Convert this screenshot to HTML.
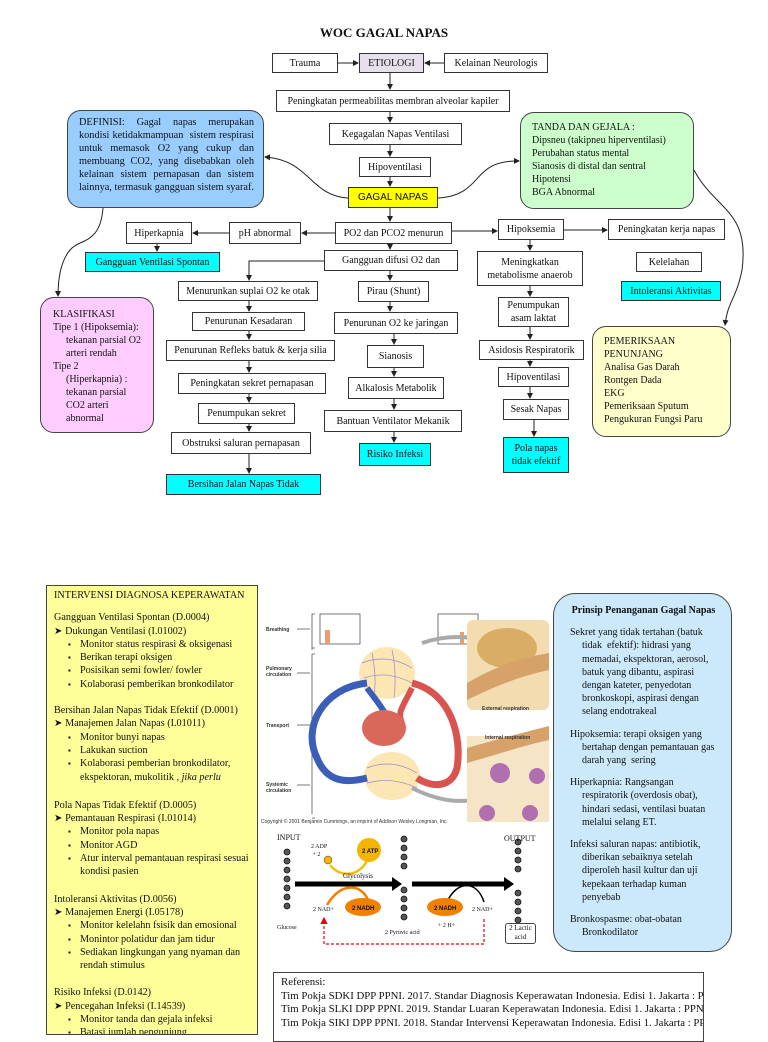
<!DOCTYPE html>
<html><head><meta charset="utf-8">
<style>
*{margin:0;padding:0;box-sizing:border-box}
body{width:768px;height:1024px;overflow:hidden;background:#fff;position:relative;font-family:"Liberation Serif",serif;color:#111}
.b{position:absolute;border:1px solid #333;background:#fff;font-size:10px;display:flex;align-items:center;justify-content:center;text-align:center;line-height:13px;white-space:nowrap}
.c{background:#00ffff}
.r{position:absolute;border:1px solid #444;font-size:10px;line-height:13px}
.t{position:absolute;font-size:10px;line-height:13px;white-space:nowrap}
.s{position:absolute;font-family:"Liberation Sans",sans-serif;font-size:5px;line-height:6px;color:#333;white-space:nowrap}
.j{text-align:justify;text-align-last:justify;white-space:nowrap}
.bl{padding-left:26px;position:relative;white-space:nowrap}
.bl:before{content:"▪";position:absolute;left:14px;top:0;font-size:8px}
.bc{padding-left:26px;white-space:nowrap}
.gap{height:13px}
.p{padding-left:12px;text-indent:-12px;margin-bottom:9px;white-space:nowrap}
</style></head><body>
<div class="t" style="left:0;width:768px;top:26px;text-align:center;font-weight:bold;font-size:13px">WOC GAGAL NAPAS</div>

<svg width="768" height="1024" style="position:absolute;left:0;top:0">
<defs><marker id="a" markerWidth="6" markerHeight="6" refX="5" refY="3" orient="auto"><path d="M0,0 L6,3 L0,6z" fill="#222"/></marker>
<marker id="rd" markerWidth="6" markerHeight="6" refX="5" refY="3" orient="auto"><path d="M0,0 L6,3 L0,6z" fill="#e00"/></marker></defs>
<g stroke="#222" stroke-width="1" fill="none" marker-end="url(#a)">
<line x1="338" y1="63" x2="358" y2="63"/><line x1="444" y1="63" x2="425" y2="63"/>
<line x1="390" y1="73" x2="390" y2="89"/><line x1="390" y1="112" x2="390" y2="122"/>
<line x1="390" y1="145" x2="390" y2="156"/><line x1="390" y1="177" x2="390" y2="186"/>
<line x1="390" y1="208" x2="390" y2="221"/><line x1="390" y1="244" x2="390" y2="249"/>
<line x1="335" y1="233" x2="302" y2="233"/><line x1="229" y1="233" x2="193" y2="233"/>
<line x1="157" y1="244" x2="157" y2="251"/>
<line x1="452" y1="231" x2="497" y2="231"/><line x1="564" y1="230" x2="607" y2="230"/>
<polyline points="324,261 249,261 249,280"/>
<line x1="249" y1="301" x2="249" y2="311"/><line x1="249" y1="331" x2="249" y2="339"/>
<line x1="249" y1="361" x2="249" y2="372"/><line x1="249" y1="394" x2="249" y2="402"/>
<line x1="249" y1="424" x2="249" y2="431"/><line x1="249" y1="454" x2="249" y2="473"/>
<line x1="390" y1="271" x2="390" y2="280"/><line x1="390" y1="302" x2="390" y2="311"/>
<line x1="394" y1="334" x2="394" y2="344"/><line x1="394" y1="368" x2="394" y2="376"/>
<line x1="394" y1="399" x2="394" y2="409"/><line x1="394" y1="432" x2="394" y2="442"/>
<line x1="530" y1="240" x2="530" y2="250"/><line x1="530" y1="286" x2="530" y2="296"/>
<line x1="530" y1="327" x2="530" y2="339"/><line x1="530" y1="360" x2="530" y2="366"/>
<line x1="530" y1="387" x2="530" y2="398"/><line x1="534" y1="420" x2="534" y2="436"/>
<path d="M348,198 C310,196 310,160 265,157"/>
<path d="M438,198 C485,195 470,160 519,161"/>
<path d="M103,208 C100,245 80,238 70,250 C60,262 58,280 58,296"/>
<path d="M694,170 C715,210 750,210 742,270 C736,300 728,300 725,325"/>
</g>
</svg>

<div class="b" style="left:272px;top:53px;width:66px;height:20px">Trauma</div>
<div class="b" style="left:359px;top:53px;width:65px;height:20px;background:#e6e0ec">ETIOLOGI</div>
<div class="b" style="left:444px;top:53px;width:104px;height:20px">Kelainan Neurologis</div>
<div class="b" style="left:276px;top:90px;width:234px;height:22px">Peningkatan permeabilitas membran alveolar kapiler</div>
<div class="b" style="left:329px;top:123px;width:133px;height:22px">Kegagalan Napas Ventilasi</div>
<div class="b" style="left:359px;top:157px;width:72px;height:20px">Hipoventilasi</div>
<div class="b" style="left:348px;top:187px;width:90px;height:21px;background:#ffff00;font-family:'Liberation Sans',sans-serif">GAGAL NAPAS</div>

<div class="r" style="left:67px;top:110px;width:197px;height:98px;background:#99ccff;border-radius:14px;padding:5px 9px 0 11px;line-height:13px;font-size:10.3px">
<div class="j">DEFINISI:&nbsp; Gagal&nbsp; napas&nbsp; merupakan</div>
<div class="j">kondisi ketidakmampuan&nbsp; sistem respirasi</div>
<div class="j">untuk&nbsp; memasok&nbsp; O2&nbsp; yang&nbsp; cukup&nbsp; dan</div>
<div class="j">membuang CO2, yang disebabkan oleh</div>
<div class="j">kelainan&nbsp; sistem&nbsp; pernapasan&nbsp; dan&nbsp; sistem</div>
<div>lainnya, termasuk gangguan sistem syaraf.</div>
</div>
<div class="r" style="left:520px;top:112px;width:174px;height:97px;background:#ccffcc;border-radius:14px;padding:8px 0 0 11px">TANDA DAN GEJALA :<br>Dipsneu (takipneu hiperventilasi)<br>Perubahan status mental<br>Sianosis di distal dan sentral<br>Hipotensi<br>BGA Abnormal</div>

<div class="b" style="left:126px;top:222px;width:66px;height:22px">Hiperkapnia</div>
<div class="b" style="left:229px;top:222px;width:72px;height:22px">pH abnormal</div>
<div class="b" style="left:335px;top:222px;width:117px;height:22px">PO2 dan PCO2 menurun</div>
<div class="b" style="left:498px;top:219px;width:66px;height:21px">Hipoksemia</div>
<div class="b" style="left:608px;top:219px;width:117px;height:21px">Peningkatan kerja napas</div>
<div class="b c" style="left:85px;top:252px;width:135px;height:20px">Gangguan Ventilasi Spontan</div>
<div class="b" style="left:324px;top:250px;width:134px;height:21px">Gangguan difusi O2 dan</div>
<div class="b" style="left:477px;top:251px;width:106px;height:35px;white-space:normal">Meningkatkan metabolisme anaerob</div>
<div class="b" style="left:636px;top:252px;width:66px;height:20px">Kelelahan</div>
<div class="b c" style="left:621px;top:281px;width:100px;height:20px">Intoleransi Aktivitas</div>
<div class="b" style="left:178px;top:281px;width:140px;height:20px">Menurunkan suplai O2 ke otak</div>
<div class="b" style="left:358px;top:281px;width:71px;height:21px">Pirau (Shunt)</div>
<div class="b" style="left:192px;top:312px;width:113px;height:19px">Penurunan Kesadaran</div>
<div class="b" style="left:334px;top:312px;width:124px;height:22px">Penurunan O2 ke jaringan</div>
<div class="b" style="left:498px;top:297px;width:71px;height:30px;white-space:normal">Penumpukan asam laktat</div>
<div class="b" style="left:166px;top:340px;width:169px;height:21px">Penurunan Refleks batuk &amp; kerja silia</div>
<div class="b" style="left:367px;top:345px;width:57px;height:23px">Sianosis</div>
<div class="b" style="left:479px;top:340px;width:105px;height:20px">Asidosis Respiratorik</div>
<div class="b" style="left:178px;top:373px;width:148px;height:21px">Peningkatan sekret pernapasan</div>
<div class="b" style="left:348px;top:377px;width:96px;height:22px">Alkalosis Metabolik</div>
<div class="b" style="left:498px;top:367px;width:71px;height:20px">Hipoventilasi</div>
<div class="b" style="left:198px;top:403px;width:97px;height:21px">Penumpukan sekret</div>
<div class="b" style="left:324px;top:410px;width:138px;height:22px">Bantuan Ventilator Mekanik</div>
<div class="b" style="left:503px;top:399px;width:66px;height:21px">Sesak Napas</div>
<div class="b" style="left:171px;top:432px;width:140px;height:22px">Obstruksi saluran pernapasan</div>
<div class="b c" style="left:359px;top:443px;width:72px;height:23px">Risiko Infeksi</div>
<div class="b c" style="left:503px;top:437px;width:66px;height:36px;white-space:normal">Pola napas tidak efektif</div>
<div class="b c" style="left:166px;top:474px;width:155px;height:21px">Bersihan Jalan Napas Tidak</div>

<div class="r" style="left:40px;top:297px;width:114px;height:136px;background:#ffccff;border-radius:14px;padding:10px 0 0 12px;line-height:13px">KLASIFIKASI<br>Tipe 1 (Hipoksemia):<br><span style="padding-left:13px">tekanan parsial O2</span><br><span style="padding-left:13px">arteri rendah</span><br>Tipe 2<br><span style="padding-left:13px">(Hiperkapnia) :</span><br><span style="padding-left:13px">tekanan parsial</span><br><span style="padding-left:13px">CO2 arteri</span><br><span style="padding-left:13px">abnormal</span></div>
<div class="r" style="left:592px;top:326px;width:139px;height:111px;background:#ffffcc;border-radius:14px;padding:8px 0 0 11px">PEMERIKSAAN<br>PENUNJANG<br>Analisa Gas Darah<br>Rontgen Dada<br>EKG<br>Pemeriksaan Sputum<br>Pengukuran Fungsi Paru</div>

<!-- Intervensi -->
<div class="r" style="left:46px;top:585px;width:212px;height:450px;background:#ffff99;padding:3px 0 0 7px;line-height:13.3px;font-size:10.2px;overflow:hidden">
<div>INTERVENSI DIAGNOSA KEPERAWATAN</div>
<div style="height:9px"></div>
<div>Gangguan Ventilasi Spontan (D.0004)</div>
<div>&#10148; Dukungan Ventilasi (I.01002)</div>
<div class="bl">Monitor status respirasi &amp; oksigenasi</div>
<div class="bl">Berikan terapi oksigen</div>
<div class="bl">Posisikan semi fowler/ fowler</div>
<div class="bl">Kolaborasi pemberikan bronkodilator</div>
<div class="gap"></div>
<div>Bersihan Jalan Napas Tidak Efektif (D.0001)</div>
<div>&#10148; Manajemen Jalan Napas (I.01011)</div>
<div class="bl">Monitor bunyi napas</div>
<div class="bl">Lakukan suction</div>
<div class="bl">Kolaborasi pemberian bronkodilator,</div>
<div class="bc">ekspektoran, mukolitik , <i>jika perlu</i></div>
<div class="gap" style="height:15px"></div>
<div>Pola Napas Tidak Efektif (D.0005)</div>
<div>&#10148; Pemantauan Respirasi (I.01014)</div>
<div class="bl">Monitor pola napas</div>
<div class="bl">Monitor AGD</div>
<div class="bl">Atur interval pemantauan respirasi sesuai</div>
<div class="bc">kondisi pasien</div>
<div class="gap" style="height:14px"></div>
<div>Intoleransi Aktivitas (D.0056)</div>
<div>&#10148; Manajemen Energi (I.05178)</div>
<div class="bl">Monitor kelelahn fsisik dan emosional</div>
<div class="bl">Monintor polatidur dan jam tidur</div>
<div class="bl">Sediakan lingkungan yang nyaman dan</div>
<div class="bc">rendah stimulus</div>
<div class="gap" style="height:14px"></div>
<div>Risiko Infeksi (D.0142)</div>
<div>&#10148; Pencegahan Infeksi (I.14539)</div>
<div class="bl">Monitor tanda dan gejala infeksi</div>
<div class="bl">Batasi jumlah pengunjung</div>
</div>

<!-- Respiration figure -->
<svg width="290" height="220" style="position:absolute;left:262px;top:608px">
<g stroke="#555" fill="none" stroke-width="0.8">
<path d="M53,6 h-3 v34 h3 M50,40 v2"/><path d="M53,46 h-3 v80 h-3 h3 v80 M50,130 h3 M50,210 h3"/>
<line x1="35" y1="21" x2="48" y2="21"/><line x1="35" y1="65" x2="48" y2="65"/><line x1="35" y1="117" x2="48" y2="117"/><line x1="35" y1="177" x2="48" y2="177"/>
<rect x="58" y="6" width="40" height="30"/><rect x="176" y="6" width="40" height="30"/><rect x="233" y="50" width="30" height="28"/>
</g>
<rect x="63" y="22" width="5" height="14" fill="#f09a70"/><rect x="198" y="24" width="4" height="12" fill="#f09a70"/>
<ellipse cx="125" cy="65" rx="28" ry="26" fill="#fbe6b4"/>
<ellipse cx="130" cy="168" rx="28" ry="24" fill="#fbe6b4"/>
<g stroke="#9988cc" stroke-width="0.7" fill="none"><path d="M100,55 Q125,45 150,60 M102,70 Q125,62 150,75 M110,45 Q115,70 112,88 M130,42 Q135,65 132,90 M105,160 Q130,150 155,165 M105,175 Q130,168 155,180"/></g>
<path d="M105,75 C60,80 40,120 55,150 C65,175 85,175 105,170" stroke="#3b5fb8" stroke-width="7" fill="none"/>
<path d="M150,75 C190,85 200,130 195,160 C190,180 170,180 155,170" stroke="#d9534f" stroke-width="7" fill="none"/>
<path d="M105,80 C120,100 130,110 125,125" stroke="#3b5fb8" stroke-width="6" fill="none"/>
<path d="M150,80 C140,100 135,105 140,115" stroke="#d9534f" stroke-width="6" fill="none"/>
<ellipse cx="122" cy="120" rx="22" ry="18" fill="#d9685a"/>
<path d="M160,35 C190,25 215,28 245,40" stroke="#aaa" stroke-width="4" fill="none"/>
<path d="M150,180 C180,195 200,195 230,190" stroke="#aaa" stroke-width="4" fill="none"/>
<rect x="205" y="12" width="82" height="90" rx="6" fill="#f3dcb0"/>
<ellipse cx="245" cy="40" rx="30" ry="20" fill="#d9ad66"/>
<path d="M205,75 C240,55 260,50 287,45 L287,62 C260,68 240,75 205,92z" fill="#d6a26a"/>
<rect x="205" y="128" width="82" height="86" fill="#f6e4c6"/>
<path d="M205,140 C240,130 260,125 287,118 L287,132 C260,138 240,145 205,155z" fill="#d6a26a"/>
<circle cx="238" cy="165" r="10" fill="#b070b0"/><circle cx="275" cy="168" r="8" fill="#b070b0"/><circle cx="225" cy="205" r="8" fill="#b070b0"/><circle cx="268" cy="205" r="8" fill="#b070b0"/>
</svg>
<div class="s" style="left:266px;top:627px;font-weight:bold">Breathing</div>
<div class="s" style="left:266px;top:666px;font-weight:bold">Pulmonary<br>circulation</div>
<div class="s" style="left:266px;top:723px;font-weight:bold">Transport</div>
<div class="s" style="left:266px;top:782px;font-weight:bold">Systemic<br>circulation</div>
<div class="s" style="left:261px;top:819px;font-size:5px">Copyright © 2001 Benjamin Cummings, an imprint of Addison Wesley Longman, Inc.</div>
<div class="s" style="left:482px;top:706px;font-weight:bold">External respiration</div>
<div class="s" style="left:485px;top:735px;font-weight:bold">Internal respiration</div>

<!-- Glycolysis -->
<svg width="290" height="130" style="position:absolute;left:262px;top:830px">
<g fill="#555" stroke="#111" stroke-width="0.8">
<circle cx="25" cy="22" r="3"/><circle cx="25" cy="31" r="3"/><circle cx="25" cy="40" r="3"/><circle cx="25" cy="49" r="3"/><circle cx="25" cy="58" r="3"/><circle cx="25" cy="67" r="3"/><circle cx="25" cy="76" r="3"/>
<circle cx="142" cy="9" r="3"/><circle cx="142" cy="18" r="3"/><circle cx="142" cy="27" r="3"/><circle cx="142" cy="36" r="3"/><circle cx="142" cy="60" r="3"/><circle cx="142" cy="69" r="3"/><circle cx="142" cy="78" r="3"/><circle cx="142" cy="87" r="3"/>
<circle cx="256" cy="12" r="3"/><circle cx="256" cy="21" r="3"/><circle cx="256" cy="30" r="3"/><circle cx="256" cy="39" r="3"/><circle cx="256" cy="63" r="3"/><circle cx="256" cy="72" r="3"/><circle cx="256" cy="81" r="3"/><circle cx="256" cy="90" r="3"/>
</g>
<line x1="33" y1="54" x2="132" y2="54" stroke="#000" stroke-width="5"/><path d="M130,47 L140,54 L130,61z"/>
<line x1="150" y1="54" x2="244" y2="54" stroke="#000" stroke-width="5"/><path d="M242,47 L252,54 L242,61z"/>
<path d="M68,35 C80,50 100,45 106,28" stroke="#f0c000" stroke-width="2.5" fill="none"/>
<path d="M65,75 C80,50 100,55 106,70" stroke="#f08000" stroke-width="2.5" fill="none"/>
<path d="M185,72 C195,50 215,50 222,72" stroke="#000" stroke-width="1.5" fill="none"/>
<circle cx="107" cy="20" r="12" fill="#f5b400"/>
<ellipse cx="101" cy="77" rx="18" ry="9" fill="#f08000"/><ellipse cx="183" cy="77" rx="18" ry="9" fill="#f08000"/>
<circle cx="66" cy="30" r="4" fill="#f5b400" stroke="#333" stroke-width="0.5"/>
<polyline points="222,89 222,114 62,114 62,88" stroke="#e00" stroke-width="1.2" stroke-dasharray="3,2" fill="none" marker-end="url(#rd)"/>
</svg>
<div class="t" style="left:277px;top:831px;font-size:8px">INPUT</div>
<div class="t" style="left:504px;top:832px;font-size:8px">OUTPUT</div>
<div class="t" style="left:311px;top:843px;font-size:6px;line-height:8px">2 ADP<br>&nbsp;+ 2</div>
<div class="t" style="left:362px;top:846px;font-size:6px;font-weight:bold;font-family:'Liberation Sans',sans-serif">2 ATP</div>
<div class="t" style="left:343px;top:870px;font-size:7px">Glycolysis</div>
<div class="t" style="left:313px;top:904px;font-size:6px">2 NAD+</div>
<div class="t" style="left:352px;top:903px;font-size:6px;font-weight:bold;font-family:'Liberation Sans',sans-serif">2 NADH</div>
<div class="t" style="left:434px;top:903px;font-size:6px;font-weight:bold;font-family:'Liberation Sans',sans-serif">2 NADH</div>
<div class="t" style="left:472px;top:904px;font-size:6px">2 NAD+</div>
<div class="t" style="left:277px;top:922px;font-size:6px">Glucose</div>
<div class="t" style="left:385px;top:927px;font-size:6px">2 Pyruvic acid</div>
<div class="t" style="left:438px;top:920px;font-size:6px">+ 2 H+</div>
<div class="t" style="left:505px;top:923px;width:31px;height:21px;border:1px solid #444;border-radius:3px;font-size:7px;line-height:9px;text-align:center;white-space:normal">2 Lactic acid</div>

<!-- Prinsip -->
<div class="r" style="left:553px;top:593px;width:179px;height:359px;background:#cce9fb;border-radius:22px;padding:10px 4px 0 16px;line-height:13.2px">
<div style="text-align:center;font-weight:bold;margin-bottom:9px;margin-left:-10px">Prinsip Penanganan Gagal Napas</div>
<div class="p">Sekret yang tidak tertahan (batuk<br>tidak&nbsp; efektif): hidrasi yang<br>memadai, ekspektoran, aerosol,<br>batuk yang dibantu, aspirasi<br>dengan kateter, penyedotan<br>bronkoskopi, aspirasi dengan<br>selang endotrakeal</div>
<div class="p">Hipoksemia: terapi oksigen yang<br>bertahap dengan pemantauan gas<br>darah yang&nbsp; sering</div>
<div class="p">Hiperkapnia: Rangsangan<br>respiratorik (overdosis obat),<br>hindari sedasi, ventilasi buatan<br>melalui selang ET.</div>
<div class="p">Infeksi saluran napas: antibiotik,<br>diberikan sebaiknya setelah<br>diperoleh hasil kultur dan uji<br>kepekaan terhadap kuman<br>penyebab</div>
<div class="p">Bronkospasme: obat-obatan<br>Bronkodilator</div>
</div>

<div class="r" style="left:273px;top:972px;width:431px;height:70px;background:#fff;padding:3px 0 0 7px;line-height:13.5px;font-size:10.8px;white-space:nowrap;overflow:hidden">Referensi:<br>Tim Pokja SDKI DPP PPNI. 2017. Standar Diagnosis Keperawatan Indonesia. Edisi 1. Jakarta : PPNI<br>Tim Pokja SLKI DPP PPNI. 2019. Standar Luaran Keperawatan Indonesia. Edisi 1. Jakarta : PPNI<br>Tim Pokja SIKI DPP PPNI. 2018. Standar Intervensi Keperawatan Indonesia. Edisi 1. Jakarta : PPNI</div>
</body></html>
